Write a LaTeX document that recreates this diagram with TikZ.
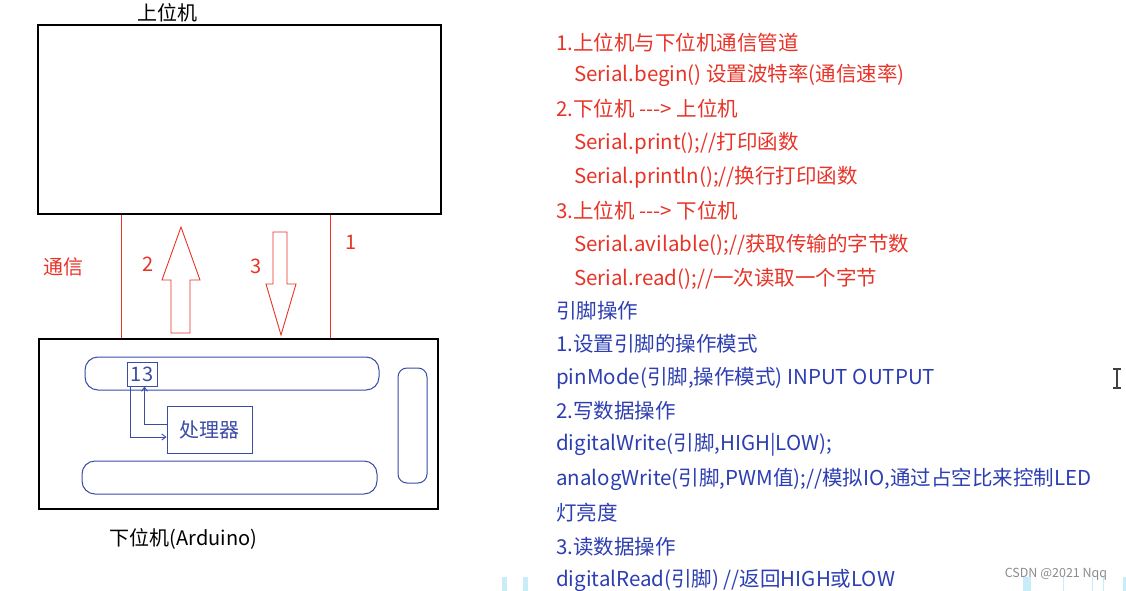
\documentclass[tikz,border=0pt]{standalone}
\usepackage{fontspec}
\setmainfont{Noto Sans CJK SC}
\usetikzlibrary{arrows.meta,positioning,calc}
\definecolor{notered}{RGB}{232,52,40}
\definecolor{noteblue}{RGB}{45,62,178}
\definecolor{partblue}{RGB}{58,76,166}
\definecolor{screencyan}{RGB}{200,236,248}

\tikzset{
	box/.style={draw=black, line width=1.1pt, inner sep=0pt},
	part/.style={draw=partblue, line width=1pt, inner sep=0pt},
	bar/.style={part, rounded corners=13pt},
	redline/.style={draw=notered, line width=0.9pt},
	hollow/.style={draw=notered, line width=0.9pt, fill=white},
	wire/.style={draw=partblue, line width=0.9pt, -{Straight Barb[length=4pt,width=6pt]}},
	label/.style={font=\fontsize{20}{24}\selectfont, inner sep=0pt},
	notetxt/.style={font=\fontsize{20.5}{24}\selectfont, inner sep=0pt, anchor=west},
	redtxt/.style={notetxt, text=notered},
	bluetxt/.style={notetxt, text=noteblue}
}

\begin{document}
\begin{tikzpicture}[x=1pt, y=-1pt]
			\useasboundingbox[fill=white] (0,0) rectangle (1126,591);
			
			% Host box
			\node[box, minimum width=403pt, minimum height=189pt] (host) at (239.5,119.5) {};
			\node[label] (hostlabel) at (167,13) {上位机};
			
			% Arduino board
			\node[box, minimum width=399pt, minimum height=170pt] (board) at (238.5,424) {};
			\node[label] (boardlabel) at (183.5,539) {下位机(Arduino)};
			
			% Pin headers
			\node[bar, minimum width=294pt, minimum height=33pt] (toprow) at (232,373.5) {};
			\node[bar, minimum width=295pt, minimum height=33pt] (botrow) at (229.5,477.5) {};
			\node[bar, rounded corners=9pt, minimum width=29pt, minimum height=115pt] (siderow) at (412.5,425.5) {};
			\node[part, minimum width=30pt, minimum height=24pt, label, text=partblue] (pin13) at (142,374) {13};
			\node[part, minimum width=85pt, minimum height=47pt, label, text=partblue] (cpu) at (209.5,429.5) {处理器};
			
			% Pin wires
			\draw[wire] ([xshift=4pt]pin13.south west) |- ([yshift=-7.5pt]cpu.west);
			\draw[wire] ([yshift=5.5pt]cpu.west) -| ([xshift=18pt]pin13.south west);
			
			% Serial channel
			\draw[redline] ($(host.south west)+(84,0)$) -- ($(board.north west)+(83,0)$);
			\draw[redline] ($(host.south west)+(293,0)$) -- ($(board.north west)+(292,0)$);
			\node[label, text=notered] (chan) at (63,267) {通信};
			\node[label, text=notered] (num1) at (351,242) {1};
			\node[label, text=notered] (num2) at (148,264) {2};
			\node[label, text=notered] (num3) at (256,266) {3};
			
			% Up and down arrows
			\draw[hollow] (181,227) -- (200,280) -- (190,280) -- (190,333) -- (171,333) -- (171,280) -- (162,280) -- cycle;
			\draw[hollow] (273,232) -- (287,232) -- (287,284) -- (296,284) -- (281,335) -- (266,284) -- (273,284) -- cycle;
			
			% Notes
			\node[redtxt] (n1) at (556,43) {1.上位机与下位机通信管道};
			\node[redtxt] (n2) at (574,75) {Serial.begin() 设置波特率(通信速率)};
			\node[redtxt] (n3) at (556,109) {2.下位机 -{}-{}-> 上位机};
			\node[redtxt] (n4) at (574,143) {Serial.print();//打印函数};
			\node[redtxt] (n5) at (574,177) {Serial.println();//换行打印函数};
			\node[redtxt] (n6) at (556,211) {3.上位机 -{}-{}-> 下位机};
			\node[redtxt] (n7) at (574,245) {Serial.avilable();//获取传输的字节数};
			\node[redtxt] (n8) at (574,279) {Serial.read();//一次读取一个字节};
			\node[bluetxt] (p1) at (556,311) {引脚操作};
			\node[bluetxt] (p2) at (556,344) {1.设置引脚的操作模式};
			\node[bluetxt] (p3) at (556,378) {pinMode(引脚,操作模式) INPUT OUTPUT};
			\node[bluetxt] (p4) at (556,411) {2.写数据操作};
			\node[bluetxt] (p5) at (556,445) {digitalWrite(引脚,HIGH|LOW);};
			\node[bluetxt] (p6) at (556,479) {analogWrite(引脚,PWM值);//模拟IO,通过占空比来控制LED};
			\node[bluetxt] (p7) at (556,513) {灯亮度};
			\node[bluetxt] (p8) at (556,547) {3.读数据操作};
			\node[bluetxt] (p9) at (556,580) {digitalRead(引脚) //返回HIGH或LOW};
			
			% Screen leftovers
			\foreach \xa/\xb in {502/507, 523/528, 1023/1031, 1063/1064, 1092/1093, 1103/1104, 1123/1126} {
				\fill[screencyan] (\xa,577) rectangle (\xb,591);
			}
			\draw[line width=1.2pt, black!75] (1117,369) -- (1117,388) (1113,369) -- (1121,369) (1113,388) -- (1121,388);
			\node[font=\fontsize{12.5}{14}\selectfont, text=black!45, inner sep=0pt] (mark) at (1056,574) {CSDN @2021 Nqq};
		\end{tikzpicture}
\end{document}
